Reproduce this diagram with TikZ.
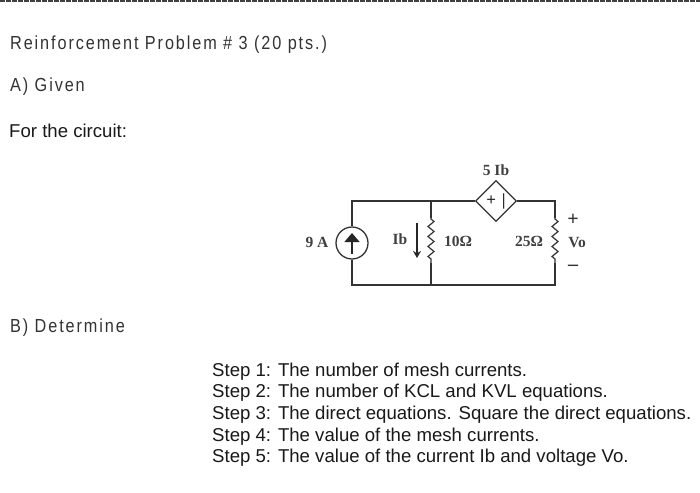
\documentclass[tikz,border=0pt]{standalone}
\usepackage{fontspec}
\setmainfont{Liberation Sans}
\newfontfamily\headfont[LetterSpace=10,FakeStretch=0.86]{Liberation Sans}
\newfontfamily\labfont{Liberation Serif}
\usetikzlibrary{shapes.geometric,decorations.pathmorphing,arrows.meta}
\tikzset{
  x=1pt,y=-1pt,
  wire/.style={draw=black!80,line width=1.2pt},
  head/.style={anchor=base west,inner sep=0pt,font=\fontsize{18.9}{20}\selectfont\headfont,text=black!80},
  body/.style={anchor=base west,inner sep=0pt,font=\fontsize{18.6}{20}\selectfont,text=black!90},
  lab/.style={inner sep=0pt,font=\fontsize{15.5}{17}\selectfont\labfont\bfseries,text=black!75},
  signlab/.style={inner sep=0pt,font=\fontsize{20}{22}\selectfont\labfont\bfseries,text=black!80},
  res/.style={wire,decorate,decoration={zigzag,segment length=10pt,amplitude=3pt,pre length=1pt,post length=1pt}},
  srcnode/.style={circle,draw=black!80,line width=1.3pt,minimum size=32pt,inner sep=0pt},
  dep/.style={diamond,draw=black!80,line width=1.2pt,minimum size=41pt,inner sep=0pt,font=\fontsize{17}{18}\selectfont\labfont\bfseries,text=black!85},
}
\begin{document}
\begin{tikzpicture}
\useasboundingbox (0,0) rectangle (700,492);
\fill[white] (0,0) rectangle (700,492);
\coordinate (rulea) at (0,1); \coordinate (ruleb) at (700,1);
\draw[black!75,line width=1.6pt,dash pattern=on 5pt off 1pt] (rulea) -- (ruleb);
\node[head] (t1) at (10,50) {Reinforcement Problem \# 3 (20 pts.)};
\node[head] (t2) at (10,92) {A) Given};
\node[body] (t3) at (9,137) {For the circuit:};
\node[head] (t4) at (10,332) {B) Determine};
\node[body] (s1) at (212,376) {Step 1: The number of mesh currents.};
\node[body] (s2) at (212,397) {Step 2: The number of KCL and KVL equations.};
\node[body] (s3) at (212,419) {Step 3: The direct equations. Square the direct equations.};
\node[body] (s4) at (212,441) {Step 4: The value of the mesh currents.};
\node[body] (s5) at (212,462) {Step 5: The value of the current Ib and voltage Vo.};
% circuit
\coordinate (tl) at (352,201); \coordinate (tm) at (431,201); \coordinate (tr) at (555,201);
\coordinate (bl) at (352,285); \coordinate (bm) at (431,285); \coordinate (br) at (555,285);
\coordinate (r1a) at (431,218); \coordinate (r1b) at (431,263);
\coordinate (r2a) at (555,218); \coordinate (r2b) at (555,263);
\node[srcnode] (src) at (352,243) {};
\node[dep] (dp) at (496,201) {+\,\,|};
\draw[wire] (src.north) -- (tl) -- (dp.west);
\draw[wire] (dp.east) -- (tr) -- (r2a);
\draw[wire] (src.south) -- (bl) -- (br) -- (r2b);
\draw[wire] (tm) -- (r1a);
\draw[wire] (r1b) -- (bm);
\draw[res] (r1a) -- (r1b);
\draw[res] (r2a) -- (r2b);
\coordinate (sa) at (352,254); \coordinate (sb) at (352,233);
\draw[line width=1.5pt,black!85,-{Triangle[width=15pt,length=9pt]}] (sa) -- (sb);
\coordinate (ia) at (417,223); \coordinate (ib) at (417,258);
\draw[line width=1.2pt,black!85,-{Stealth[width=8pt,length=7pt]}] (ia) -- (ib);
\node[lab] (l9) at (317,242) {9 A};
\node[lab] (lib) at (400,239) {Ib};
\node[lab] (l10) at (458,241) {10Ω};
\node[lab] (l25) at (529,241) {25Ω};
\node[lab] (lv) at (577,243) {Vo};
\node[lab] (l5) at (496,170) {5 Ib};
\node[signlab] (lp) at (573,220) {+};
\node[signlab] (lm) at (573,268) {–};
\end{tikzpicture}
\end{document}
